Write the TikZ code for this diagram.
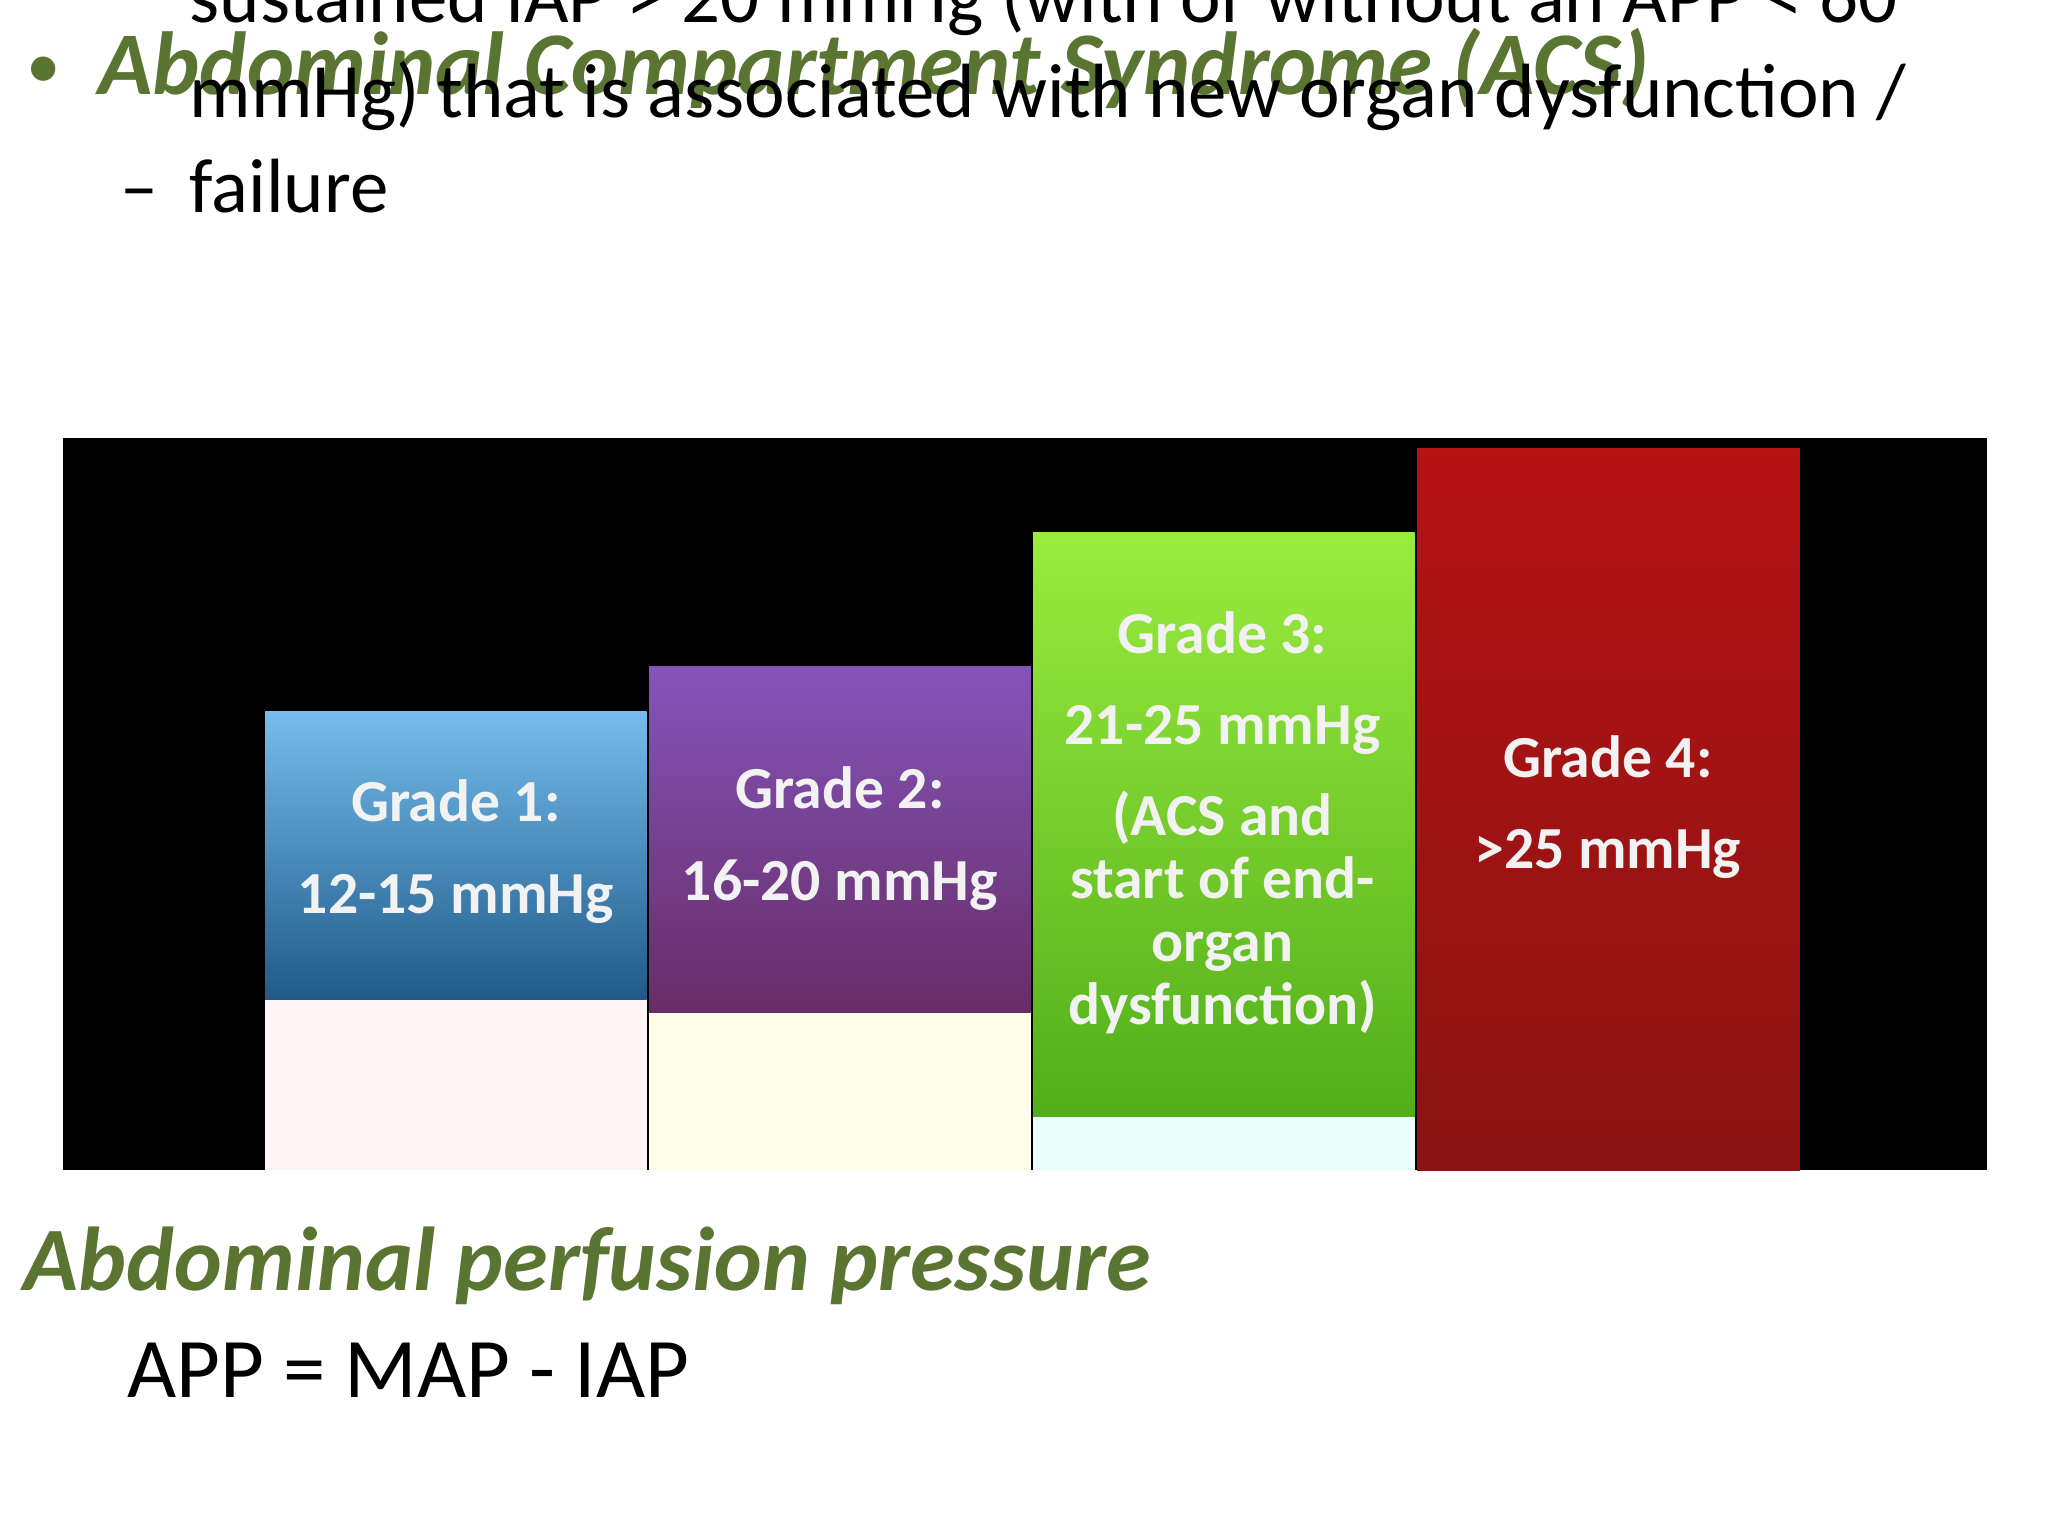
\documentclass[tikz,border=0pt]{standalone}
\usepackage{fontspec}
\setmainfont{Carlito}
\begin{document}
\begin{tikzpicture}[x=0.02cm,y=-0.02cm,
 txt/.style={inner sep=0,anchor=base west},
 grade/.style={inner sep=0,text=white!90!gray,font=\fontsize{26}{36}\selectfont\bfseries,align=center}]
\definecolor{olv}{HTML}{5A7531}
\useasboundingbox (0,0) rectangle (1568,1176);
\fill[white] (0,0) rectangle (1568,1176);
\node[txt,text=olv,font=\fontsize{30}{40}\selectfont] (b) at (20,68) {•};
\node[txt,text=olv,font=\fontsize{39}{40}\selectfont\bfseries\itshape] (t) at (75,72) {Abdominal Compartment Syndrome (ACS)};
\node[txt,font=\fontsize{33}{40}\selectfont] (d) at (92,163) {–};
\node[txt,font=\fontsize{33.5}{41.5}\selectfont,align=left] (s) at (145,163) {sustained IAP > 20 mmHg (with or without an APP < 60\\mmHg) that is associated with new organ dysfunction /\\failure};
\fill[black] (48,335) rectangle (1521,896);
\fill[red!4] (203,765) rectangle (495,896);
\fill[yellow!8] (497,775) rectangle (789,896);
\fill[green!12!cyan!8] (791,855) rectangle (1083,896);
\shade[top color=cyan!60!blue!55!white!85!gray,bottom color=cyan!55!blue!55!black!75!gray] (203,545) rectangle (495,765);
\shade[top color=violet!65!blue!70!white!85!gray,bottom color=violet!70!black!65!gray] (497,510) rectangle (789,775);
\shade[top color=lime!70!green!80!white!85!gray,bottom color=green!45!olive!80!gray] (791,408) rectangle (1083,855);
\shade[top color=red!75!black!85!gray,bottom color=red!55!black!85!gray] (1085,343) rectangle (1378,896);
\node[grade] (g1) at (349,652) {Grade 1:\\[4pt]12-15 mmHg};
\node[grade] (g2) at (643,642) {Grade 2:\\[4pt]16-20 mmHg};
\node[grade,font=\fontsize{26}{27.5}\selectfont\bfseries] (g3) at (936,630) {Grade 3:\\[12pt]21-25 mmHg\\[12pt](ACS and\\start of end-\\organ\\dysfunction)};
\node[grade] (g4) at (1231,618) {Grade 4:\\[4pt]>25 mmHg};
\node[txt,text=olv,font=\fontsize{39.5}{40}\selectfont\bfseries\itshape] (a) at (18,988) {Abdominal perfusion pressure};
\node[txt,font=\fontsize{37}{40}\selectfont] (e) at (97,1070) {APP = MAP - IAP};
\end{tikzpicture}
\end{document}
